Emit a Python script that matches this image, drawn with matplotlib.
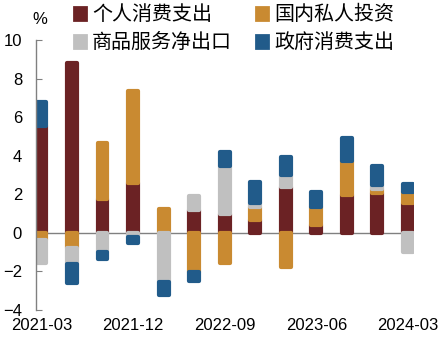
import matplotlib.pyplot as plt
import numpy as np
from matplotlib.patches import Patch

plt.rcParams['font.family'] = ['Liberation Sans', 'Noto Sans CJK SC']

quarters = ['2021-03', '2021-06', '2021-09', '2021-12', '2022-03', '2022-06', '2022-09',
            '2022-12', '2023-03', '2023-06', '2023-09', '2023-12', '2024-03']
pce = [5.55, 8.80, 1.78, 2.60, 0.00, 1.19, 0.97, 0.67, 2.40, 0.41, 1.97, 2.09, 1.57]
investment = [-0.36, -0.78, 2.88, 4.76, 1.23, -2.05, -1.54, 0.66, -1.78, 0.92, 1.78, 0.17, 0.57]
net_exports = [-1.20, -0.82, -0.97, -0.20, -2.57, 0.74, 2.52, 0.21, 0.60, 0.00, 0.00, 0.23, -0.97]
government = [1.25, -1.00, -0.38, -0.30, -0.63, -0.47, 0.69, 1.09, 0.95, 0.77, 1.15, 0.98, 0.38]

series = [
    ('个人消费支出', pce, '#6B2224'),
    ('国内私人投资', investment, '#C98A31'),
    ('商品服务净出口', net_exports, '#C0C0C0'),
    ('政府消费支出', government, '#215B8A'),
]

fig = plt.figure(figsize=(4.43, 3.42), dpi=100)
ax = fig.add_axes([36 / 443, 1 - 310 / 342, (414 - 36) / 443, (310 - 40) / 342])

x = np.arange(len(quarters))
pos_bottom = np.zeros(len(quarters))
neg_bottom = np.zeros(len(quarters))
for name, vals, color in series:
    vals = np.array(vals)
    bottom = np.where(vals >= 0, pos_bottom, neg_bottom)
    ax.bar(x, vals, width=0.32, bottom=bottom, color=color, edgecolor=color,
           linewidth=3, joinstyle='round', zorder=2)
    pos_bottom += np.clip(vals, 0, None)
    neg_bottom += np.clip(vals, None, 0)

ax.axhline(0, color='#808080', lw=1, zorder=1)

ax.set_xlim(-0.18, 12.2)
ax.set_ylim(-4, 10)
ax.set_yticks(np.arange(-4, 11, 2))
ax.set_xticks(x[::3])
ax.set_xticklabels(quarters[::3])
ax.tick_params(axis='y', direction='in', length=4, color='#808080', pad=10, labelsize=12)
ax.tick_params(axis='x', length=0, pad=6, labelsize=12)

for side in ['top', 'right', 'bottom']:
    ax.spines[side].set_visible(False)
ax.spines['left'].set_color('#808080')
ax.spines['left'].set_linewidth(1)

fig.text(40 / 443, 1 - 19 / 342, '%', fontsize=12, ha='center', va='center')

# legend fills column by column, so order the handles to read row by row
handles = [Patch(facecolor=c, edgecolor=c, linewidth=2, joinstyle='round', label=n)
           for n, v, c in (series[0], series[2], series[1], series[3])]
fig.legend(handles=handles, loc='upper left', bbox_to_anchor=(74 / 443, 1 - 5 / 342),
           ncol=2, frameon=False, fontsize=14.4, handlelength=0.6, handleheight=0.6,
           handletextpad=0.3, columnspacing=1.2, labelspacing=0.45,
           borderpad=0, borderaxespad=0)

fig.savefig('out.png', dpi=100)
